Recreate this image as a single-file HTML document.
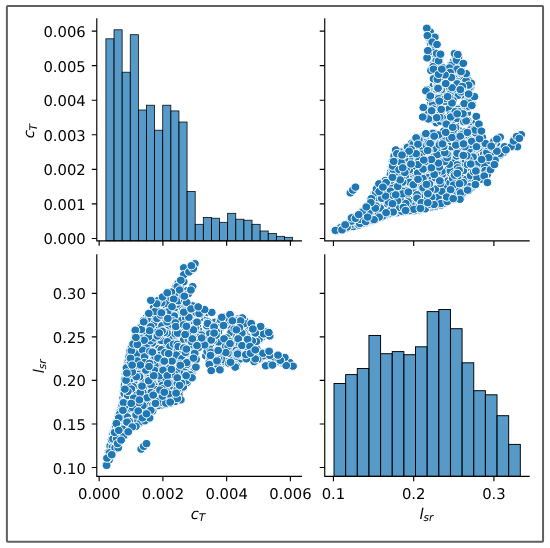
<!DOCTYPE html><html><head><meta charset="utf-8"><title>pairplot</title><style>html,body{margin:0;padding:0;background:#fff}svg{display:block}text{font-family:"DejaVu Sans","Liberation Sans",sans-serif;font-size:14.8px;text-rendering:geometricPrecision;fill:#000}.i{font-style:oblique}.s{font-size:10.6px;font-style:oblique}</style></head><body>
<svg width="550" height="548" viewBox="0 0 550 548">
<rect width="550" height="548" fill="#fff"/>
<rect x="6.9" y="6" width="536.15" height="535.7" rx="0.8" fill="none" stroke="#606060" stroke-width="2"/>
<defs><marker id="m" markerWidth="10" markerHeight="10" refX="5" refY="5" markerUnits="userSpaceOnUse" overflow="visible"><ellipse cx="5" cy="5" rx="4.4" ry="4.2" fill="#1f77b4" stroke="#fff" stroke-width="1.0"/></marker></defs>
<rect x="105.90" y="38.80" width="8.12" height="202.00" fill="#1f77b4" fill-opacity="0.75" stroke="#000" stroke-width="0.75"/>
<rect x="114.02" y="29.80" width="8.12" height="211.00" fill="#1f77b4" fill-opacity="0.75" stroke="#000" stroke-width="0.75"/>
<rect x="122.13" y="72.20" width="8.12" height="168.60" fill="#1f77b4" fill-opacity="0.75" stroke="#000" stroke-width="0.75"/>
<rect x="130.25" y="34.70" width="8.12" height="206.10" fill="#1f77b4" fill-opacity="0.75" stroke="#000" stroke-width="0.75"/>
<rect x="138.37" y="110.00" width="8.12" height="130.80" fill="#1f77b4" fill-opacity="0.75" stroke="#000" stroke-width="0.75"/>
<rect x="146.49" y="105.20" width="8.12" height="135.60" fill="#1f77b4" fill-opacity="0.75" stroke="#000" stroke-width="0.75"/>
<rect x="154.60" y="130.20" width="8.12" height="110.60" fill="#1f77b4" fill-opacity="0.75" stroke="#000" stroke-width="0.75"/>
<rect x="162.72" y="105.20" width="8.12" height="135.60" fill="#1f77b4" fill-opacity="0.75" stroke="#000" stroke-width="0.75"/>
<rect x="170.84" y="110.90" width="8.12" height="129.90" fill="#1f77b4" fill-opacity="0.75" stroke="#000" stroke-width="0.75"/>
<rect x="178.95" y="122.00" width="8.12" height="118.80" fill="#1f77b4" fill-opacity="0.75" stroke="#000" stroke-width="0.75"/>
<rect x="187.07" y="191.40" width="8.12" height="49.40" fill="#1f77b4" fill-opacity="0.75" stroke="#000" stroke-width="0.75"/>
<rect x="195.19" y="224.30" width="8.12" height="16.50" fill="#1f77b4" fill-opacity="0.75" stroke="#000" stroke-width="0.75"/>
<rect x="203.30" y="217.40" width="8.12" height="23.40" fill="#1f77b4" fill-opacity="0.75" stroke="#000" stroke-width="0.75"/>
<rect x="211.42" y="218.20" width="8.12" height="22.60" fill="#1f77b4" fill-opacity="0.75" stroke="#000" stroke-width="0.75"/>
<rect x="219.54" y="222.30" width="8.12" height="18.50" fill="#1f77b4" fill-opacity="0.75" stroke="#000" stroke-width="0.75"/>
<rect x="227.66" y="213.30" width="8.12" height="27.50" fill="#1f77b4" fill-opacity="0.75" stroke="#000" stroke-width="0.75"/>
<rect x="235.77" y="219.20" width="8.12" height="21.60" fill="#1f77b4" fill-opacity="0.75" stroke="#000" stroke-width="0.75"/>
<rect x="243.89" y="220.20" width="8.12" height="20.60" fill="#1f77b4" fill-opacity="0.75" stroke="#000" stroke-width="0.75"/>
<rect x="252.01" y="224.30" width="8.12" height="16.50" fill="#1f77b4" fill-opacity="0.75" stroke="#000" stroke-width="0.75"/>
<rect x="260.12" y="231.00" width="8.12" height="9.80" fill="#1f77b4" fill-opacity="0.75" stroke="#000" stroke-width="0.75"/>
<rect x="268.24" y="233.50" width="8.12" height="7.30" fill="#1f77b4" fill-opacity="0.75" stroke="#000" stroke-width="0.75"/>
<rect x="276.36" y="236.30" width="8.12" height="4.50" fill="#1f77b4" fill-opacity="0.75" stroke="#000" stroke-width="0.75"/>
<rect x="284.47" y="237.30" width="8.12" height="3.50" fill="#1f77b4" fill-opacity="0.75" stroke="#000" stroke-width="0.75"/>
<rect x="334.00" y="383.50" width="11.64" height="92.85" fill="#1f77b4" fill-opacity="0.75" stroke="#000" stroke-width="0.95"/>
<rect x="345.64" y="374.60" width="11.64" height="101.75" fill="#1f77b4" fill-opacity="0.75" stroke="#000" stroke-width="0.95"/>
<rect x="357.29" y="368.50" width="11.64" height="107.85" fill="#1f77b4" fill-opacity="0.75" stroke="#000" stroke-width="0.95"/>
<rect x="368.94" y="335.50" width="11.64" height="140.85" fill="#1f77b4" fill-opacity="0.75" stroke="#000" stroke-width="0.95"/>
<rect x="380.58" y="353.70" width="11.64" height="122.65" fill="#1f77b4" fill-opacity="0.75" stroke="#000" stroke-width="0.95"/>
<rect x="392.23" y="351.60" width="11.64" height="124.75" fill="#1f77b4" fill-opacity="0.75" stroke="#000" stroke-width="0.95"/>
<rect x="403.87" y="354.70" width="11.64" height="121.65" fill="#1f77b4" fill-opacity="0.75" stroke="#000" stroke-width="0.95"/>
<rect x="415.51" y="346.80" width="11.64" height="129.55" fill="#1f77b4" fill-opacity="0.75" stroke="#000" stroke-width="0.95"/>
<rect x="427.16" y="311.60" width="11.64" height="164.75" fill="#1f77b4" fill-opacity="0.75" stroke="#000" stroke-width="0.95"/>
<rect x="438.81" y="309.50" width="11.64" height="166.85" fill="#1f77b4" fill-opacity="0.75" stroke="#000" stroke-width="0.95"/>
<rect x="450.45" y="328.70" width="11.64" height="147.65" fill="#1f77b4" fill-opacity="0.75" stroke="#000" stroke-width="0.95"/>
<rect x="462.10" y="362.80" width="11.64" height="113.55" fill="#1f77b4" fill-opacity="0.75" stroke="#000" stroke-width="0.95"/>
<rect x="473.74" y="390.70" width="11.64" height="85.65" fill="#1f77b4" fill-opacity="0.75" stroke="#000" stroke-width="0.95"/>
<rect x="485.38" y="394.80" width="11.64" height="81.55" fill="#1f77b4" fill-opacity="0.75" stroke="#000" stroke-width="0.95"/>
<rect x="497.03" y="415.70" width="11.64" height="60.65" fill="#1f77b4" fill-opacity="0.75" stroke="#000" stroke-width="0.95"/>
<rect x="508.67" y="444.40" width="11.64" height="31.95" fill="#1f77b4" fill-opacity="0.75" stroke="#000" stroke-width="0.95"/>
<polyline points="450.8,186.9 426.3,143.7 456.8,197.1 388.4,188.9 431.0,138.6 396.0,153.7 436.5,157.4 440.2,102.0 398.9,153.8 466.2,134.7 448.0,197.4 463.5,150.7 432.3,156.3 408.5,204.0 409.8,188.5 458.2,132.7 438.7,143.2 454.5,143.3 409.4,173.9 392.1,197.2 395.4,183.5 456.4,171.6 402.5,200.8 408.2,169.2 400.5,203.0 421.5,192.9 397.6,187.5 375.8,206.7 396.0,190.6 472.7,178.1 472.5,178.1 434.2,137.8 412.2,194.0 387.1,205.9 426.9,137.9 395.8,200.1 477.6,149.9 396.4,211.7 428.8,152.5 420.0,210.0 429.4,156.5 489.3,162.3 411.9,185.7 406.7,200.9 422.3,187.6 335.7,231.0 460.6,144.0 452.0,134.6 424.1,140.6 478.4,155.4 402.8,209.8 348.5,226.3 449.1,193.3 390.1,194.8 441.6,183.0 437.2,143.5 467.9,177.5 425.0,201.4 434.0,155.8 429.2,205.0 463.1,170.8 417.8,162.1 396.4,152.2 443.2,137.2 369.2,218.1 411.3,203.9 457.8,150.1 473.2,134.9 396.9,160.5 419.7,161.6 461.6,72.1 440.4,199.5 453.5,177.7 407.6,151.3 414.2,210.7 445.2,162.0 400.8,172.1 446.9,179.1 405.9,196.7 367.5,219.7 393.1,174.2 470.3,143.2 450.5,168.0 464.7,133.4 367.5,213.5 445.7,197.1 464.4,136.9 478.0,149.4 414.9,181.4 395.1,207.4 432.6,192.5 423.7,167.6 385.6,193.7 406.1,186.5 457.6,147.9 442.5,171.8 404.2,166.6 371.4,213.5 441.1,203.7 450.0,184.0 467.3,172.5 418.4,169.2 456.7,156.4 442.8,166.3 459.1,172.3 485.8,167.9 396.7,181.4 381.4,213.3 476.0,184.0 466.7,180.1 407.3,147.3 422.3,169.5 345.0,224.5 435.2,116.4 445.1,154.1 363.2,215.8 424.8,139.6 440.5,197.6 389.6,182.0 421.1,180.8 453.1,165.9 454.8,170.7 411.9,149.4 439.8,119.2 443.1,192.2 451.2,183.0 456.9,180.8 394.2,180.1 441.3,157.9 473.4,181.7 441.6,201.4 421.3,169.1 405.4,200.1 439.5,173.9 421.7,206.3 467.7,84.0 401.6,153.2 410.7,197.4 446.6,166.6 386.6,207.7 395.8,171.9 439.3,141.6 429.6,200.1 476.5,151.7 397.0,167.8 343.8,227.6 422.6,136.4 427.7,169.0 401.0,177.6 417.4,140.4 479.9,134.5 429.7,157.1 475.7,167.7 453.2,172.3 453.8,86.5 439.5,142.5 410.9,196.0 438.1,143.2 355.0,225.8 437.5,89.0 431.2,163.8 460.0,176.9 406.8,185.7 380.6,217.5 405.0,199.5 420.1,173.0 427.4,141.0 415.7,207.5 402.4,193.7 450.9,76.1 445.1,149.3 415.2,197.3 384.5,183.7 459.1,119.3 347.8,223.9 405.2,207.6 464.0,163.8 461.5,180.0 428.7,176.6 456.1,190.5 383.0,186.6 415.1,145.2 471.0,157.0 438.1,188.1 443.5,169.5 476.7,159.0 424.4,195.0 428.3,197.3 464.1,186.5 396.9,158.3 406.8,179.3 427.4,202.9 465.8,184.6 454.9,164.1 436.6,174.7 400.6,158.3 440.8,143.6 437.6,191.9 430.2,43.2 364.2,210.6 369.7,212.9 438.0,179.4 389.8,186.1 409.8,148.2 465.9,136.1 429.7,188.4 375.0,197.2 473.5,181.0 391.9,206.5 405.0,207.0 363.5,217.5 494.4,160.6 415.0,145.1 374.3,194.3 480.9,160.4 445.1,163.5 405.0,194.1 447.1,169.5 480.4,163.7 433.5,64.5 457.8,134.7 448.7,166.9 471.8,142.6 368.3,209.9 393.7,184.1 498.5,150.5 470.8,131.4 369.7,215.8 412.7,207.4 476.2,171.7 463.2,176.4 415.7,197.8 371.7,206.4 433.4,153.2 403.5,210.0 463.6,175.1 474.5,142.9 480.7,179.3 473.8,169.8 410.4,187.6 454.1,151.6 385.0,206.8 364.7,222.9 380.9,205.1 475.8,136.5 388.7,213.6 431.6,201.4 473.4,173.1 368.5,217.0 428.1,181.7 394.2,165.2 402.6,212.1 416.6,204.7 423.4,171.7 424.4,137.0 465.4,184.1 416.9,158.1 392.8,181.2 492.6,159.7 453.5,178.7 453.4,162.5 401.3,184.4 405.9,177.1 438.7,165.2 469.8,184.6 481.3,160.7 452.2,140.8 423.5,177.1 362.0,223.8 428.1,156.8 488.6,158.0 426.8,150.9 389.8,202.3 403.8,180.1 433.8,155.8 432.0,190.1 450.9,144.5 421.6,173.8 489.1,156.0 379.0,205.5 456.4,126.1 393.4,202.9 456.2,163.6 465.2,185.0 412.8,193.6 403.8,163.6 425.7,137.0 375.4,219.5 446.5,186.2 448.1,126.4 457.8,158.1 457.1,168.9 455.2,123.6 378.3,191.5 442.8,165.6 389.5,182.1 461.2,133.6 463.8,180.5 423.0,174.4 375.5,210.2 440.3,163.9 428.4,156.3 381.6,203.6 400.5,186.8 421.8,139.4 391.7,199.9 462.7,174.2 399.7,205.9 350.4,226.1 450.5,142.9 398.5,157.2 446.1,94.1 400.9,152.3 403.2,202.4 430.9,136.9 438.9,59.7 471.0,164.8 429.1,145.7 408.9,180.3 461.5,168.2 491.6,162.0 414.6,185.6 461.2,142.5 461.5,165.3 477.5,166.8 495.0,160.3 377.4,211.6 440.0,166.9 434.5,166.8 366.8,221.8 458.0,189.2 418.0,139.6 430.5,207.5 431.3,147.3 389.0,189.1 433.8,47.5 459.0,134.8 469.3,165.7 414.6,146.8 425.7,199.1 432.3,152.4 411.3,209.5 443.1,144.1 443.9,170.3 437.3,184.3 433.4,94.7 460.5,146.7 416.8,155.5 454.6,161.5 415.5,150.4 460.4,137.1 449.7,159.9 435.0,172.3 408.4,211.4 452.4,157.9 399.6,202.1 415.9,189.5 361.2,224.1 484.5,170.7 468.5,174.2 433.4,85.8 453.1,179.2 426.1,199.3 396.1,162.8 411.4,196.6 457.1,177.8 378.9,196.6 392.7,182.6 462.4,111.0 455.0,188.3 470.9,137.6 439.9,191.7 402.2,161.1 420.7,160.5 489.0,157.6 414.3,143.6 391.9,187.2 400.4,167.9 458.1,170.0 369.8,204.4 406.0,179.8 441.7,136.0 405.5,160.4 424.8,180.9 440.4,100.4 435.6,72.3 434.7,163.2 470.4,141.2 463.8,157.3 406.7,184.1 411.6,199.9 460.0,174.8 420.3,203.7 461.5,90.6 446.2,175.4 409.9,210.6 408.5,191.1 412.0,185.6 403.3,205.6 453.3,167.3 457.5,150.9 369.1,218.9 439.5,134.1 430.9,43.8 361.2,211.8 389.9,194.2 403.2,207.6 452.1,148.8 399.6,177.4 356.7,223.9 421.1,195.1 473.3,166.4 409.1,178.1 415.2,172.6 401.1,157.6 448.7,131.3 366.7,214.3 413.0,186.9 431.5,165.1 414.2,206.3 411.4,179.2 434.8,191.0 412.9,167.2 434.8,152.2 440.8,161.7 387.4,214.6 457.1,183.3 391.6,194.9 420.8,169.6 473.3,138.8 445.6,133.8 448.2,151.0 390.2,195.6 483.6,169.5 411.7,195.6 409.8,156.7 478.0,152.4 404.9,174.3 377.1,199.2 419.5,167.8 427.2,155.7 474.8,146.1 427.9,110.6 410.8,158.2 416.3,189.5 455.9,137.0 421.6,181.5 421.5,154.2 436.8,164.7 466.3,154.4 417.3,185.7 436.9,84.1 427.9,192.6 459.7,89.9 403.8,157.5 482.9,159.1 404.8,166.4 419.6,162.5 477.2,155.6 380.2,191.0 408.3,194.5 390.0,177.0 474.6,178.7 442.5,161.8 435.8,169.0 426.2,175.5 408.5,188.7 413.3,197.8 413.1,196.2 435.8,206.2 421.6,154.3 422.6,170.3 483.8,142.4 400.6,175.6 425.0,176.1 391.3,191.8 461.6,107.3 392.7,171.3 437.6,98.0 427.8,107.2 443.6,193.2 393.5,207.9 373.2,207.4 439.1,154.4 448.4,197.0 420.2,151.7 450.7,122.4 405.1,202.5 429.4,158.4 383.1,186.6 403.1,189.7 435.9,157.1 398.6,184.0 441.1,177.8 477.7,164.3 447.6,138.6 400.5,210.9 398.4,198.9 466.5,179.2 349.9,225.0 453.7,187.4 440.7,176.4 439.5,108.6 473.6,184.2 395.1,169.8 408.2,171.1 412.1,168.7 473.4,145.8 417.3,141.1 436.3,122.7 488.0,166.3 355.4,220.1 428.5,177.6 406.5,160.8 390.0,194.8 480.8,135.2 375.7,197.1 466.1,158.8 461.2,91.5 461.5,153.4 472.6,149.4 389.3,212.5 405.9,203.3 412.5,187.8 441.0,202.3 402.0,168.9 413.8,164.6 419.4,199.9 417.3,163.5 460.3,131.1 416.1,173.1 452.1,175.1 473.0,168.6 448.3,193.9 421.4,181.8 424.0,152.8 425.3,139.9 405.5,188.2 374.4,209.1 444.8,141.0 403.2,155.7 426.2,147.4 417.9,192.4 437.1,204.8 479.1,144.5 433.8,167.4 400.9,187.8 414.4,179.6 402.9,184.0 438.2,148.5 462.4,169.6 380.3,190.0 399.3,183.6 484.0,175.4 386.5,188.7 403.2,170.2 368.2,209.2 444.5,156.2 450.1,66.6 375.2,213.8 466.5,149.8 452.0,83.5 470.0,133.3 481.9,160.2 442.8,187.5 427.9,170.2 467.7,85.0 407.1,153.2 451.5,160.6 434.4,182.1 442.8,178.4 472.7,168.4 459.4,177.0 451.9,143.7 437.8,161.0 433.4,169.2 396.8,166.3 448.8,163.0 393.2,195.4 398.2,208.3 442.5,196.0 445.9,75.7 435.0,171.7 399.1,152.4 416.5,174.3 447.2,186.7 395.5,185.3 479.0,138.5 472.3,124.6 475.8,143.3 411.7,143.2 429.4,190.0 432.8,179.0 399.9,152.3 466.0,188.1 442.2,187.9 480.2,157.3 397.4,173.1 403.3,203.7 458.8,169.2 408.7,186.8 449.1,182.1 443.5,150.0 453.9,148.0 449.8,166.8 451.2,184.0 446.6,125.8 375.6,214.0 381.9,191.7 362.4,220.2 392.8,204.8 433.5,167.5 430.1,147.7 427.0,149.5 377.7,211.1 421.6,201.8 411.3,165.4 433.6,151.3 444.3,108.2 439.8,185.1 406.5,180.4 453.0,125.3 381.0,184.0 397.7,201.9 465.9,163.8 403.4,204.0 403.0,151.5 405.9,197.3 403.7,211.5 456.5,164.8 389.0,209.7 476.7,144.6 405.3,175.3 461.2,175.8 409.5,168.1 467.2,113.1 389.1,191.1 399.0,157.9 410.4,149.4 448.8,174.0 421.8,170.7 443.4,156.1 364.4,211.3 470.7,187.2 470.1,167.4 413.2,151.5 450.4,79.4 378.1,201.6 451.4,146.6 456.0,193.1 450.9,155.1 416.6,178.2 428.3,155.7 444.4,167.0 473.1,185.3 347.4,228.0 402.5,188.6 390.8,171.8 479.4,141.9 425.8,166.4 459.7,139.5 464.0,164.0 434.0,111.6 441.8,85.0 409.0,206.0 457.4,189.5 378.6,202.8 460.1,143.8 423.9,185.9 451.7,64.0 472.4,184.5 362.3,223.9 452.2,167.3 451.0,171.3 395.2,159.8 376.2,201.1 401.1,205.0 412.1,194.0 374.0,216.8 414.8,164.6 455.0,173.7 462.9,148.0 426.1,201.5 458.4,159.1 385.8,215.5 428.8,187.4 417.4,200.5 487.6,153.0 440.9,140.9 497.1,150.1 429.3,188.6 388.8,214.2 437.4,56.5 446.2,202.4 436.0,177.1 455.5,187.7 428.3,177.9 370.2,218.4 433.8,165.7 403.1,195.1 455.8,178.8 477.8,141.4 352.6,225.4 461.0,180.4 466.5,184.7 456.2,156.0 435.1,174.8 413.6,164.3 420.3,142.7 348.5,224.1 429.0,142.0 427.1,179.1 399.1,165.8 436.6,54.3 385.5,195.6 385.1,207.2 461.1,140.4 473.6,176.0 468.5,179.2 391.7,166.7 463.1,176.8 389.8,212.1 366.5,206.5 380.9,213.1 402.0,181.7 462.6,142.7 410.5,169.4 460.0,185.2 438.1,142.1 483.4,141.9 427.9,201.2 399.6,153.2 450.4,133.8 466.5,174.4 452.9,198.7 477.7,142.0 446.9,186.9 404.7,159.5 373.1,202.9 478.0,146.1 402.2,192.0 476.5,177.3 395.5,197.3 460.7,164.4 441.2,172.8 403.4,187.2 472.4,146.1 419.8,158.9 412.1,187.9 442.6,181.4 478.6,135.6 471.1,163.8 473.4,134.4 432.8,44.3 483.2,142.2 466.1,86.7 407.1,176.6 377.7,189.2 461.7,155.6 411.0,170.1 416.7,204.5 418.0,172.9 390.5,196.7 403.8,172.7 410.9,170.9 441.8,200.1 381.6,185.8 470.1,143.8 454.3,150.8 484.2,163.5 452.4,191.8 385.8,213.1 462.2,177.9 389.4,202.6 425.2,157.3 415.4,195.5 428.6,169.6 437.3,159.4 451.4,187.6 406.3,177.5 462.2,171.0 368.8,216.6 416.6,180.7 440.2,112.4 408.4,179.9 423.5,192.1 442.8,198.5 441.6,157.0 441.1,166.7 490.0,170.0 453.1,175.3 444.6,155.7 437.0,172.3 432.3,177.3 402.5,205.4 439.2,154.6 393.5,168.7 450.6,173.9 395.2,157.4 399.0,153.9 417.9,205.6 397.1,180.3 394.9,163.2 392.5,180.1 434.1,204.0 455.5,171.2 393.2,211.2 453.3,157.5 428.3,187.9 476.5,172.7 487.3,152.1 430.0,182.5 451.1,192.7 479.0,150.9 431.8,155.3 439.6,152.3 485.1,164.0 400.8,205.1 463.8,134.1 422.8,159.5 440.8,144.3 431.2,141.0 440.9,154.8 375.0,199.6 416.8,160.7 450.8,108.6 460.2,169.3 408.7,199.3 395.0,180.7 465.3,169.2 455.3,186.9 435.4,173.2 448.5,181.7 485.5,170.7 435.1,147.1 455.8,72.1 441.4,170.9 442.2,195.6 456.0,165.2 423.6,208.4 425.2,135.5 497.6,153.8 434.1,187.8 413.7,200.3 430.8,205.3 494.0,151.6 423.9,137.4 377.6,205.2 483.9,161.6 470.6,129.8 385.8,188.7 471.7,136.5 358.0,218.6 421.5,165.8 442.4,181.2 441.3,194.4 432.3,197.1 500.0,152.7 408.5,180.6 425.1,156.2 462.3,149.6 449.3,178.1 428.2,176.6 463.0,142.1 440.2,121.3 453.5,174.1 451.1,169.2 475.2,153.2 452.7,173.6 436.1,166.5 437.8,142.3 396.0,151.0 412.7,175.0 455.6,186.5 428.5,180.0 428.8,176.2 450.2,134.1 464.2,174.3 380.8,205.7 393.9,169.3 379.3,187.3 408.8,163.9 443.7,164.9 407.6,147.3 436.2,199.9 482.9,167.5 493.8,159.2 408.8,186.6 473.5,159.3 473.3,156.7 484.3,174.9 396.8,212.8 384.9,181.4 396.3,189.9 403.5,167.2 440.0,181.1 441.5,85.6 476.8,165.2 497.9,151.3 428.6,162.4 426.6,149.7 415.7,185.4 414.6,162.2 441.8,138.5 446.0,162.1 382.4,198.3 471.5,166.5 487.1,169.1 426.6,172.4 481.7,152.6 341.5,227.7 446.6,141.0 429.3,166.2 402.5,198.8 409.8,183.1 427.8,168.6 442.9,172.6 372.1,217.6 475.0,182.9 373.5,213.6 361.2,224.0 457.4,156.5 430.1,142.7 452.5,189.9 450.5,173.4 411.3,164.9 400.8,164.3 453.7,116.3 413.7,157.4 454.5,137.1 428.6,156.3 423.0,191.5 460.2,139.3 431.6,150.3 397.6,183.1 389.4,192.3 392.0,187.2 424.0,141.6 406.4,165.7 471.0,158.5 388.5,198.1 485.2,157.7 470.0,140.2 456.4,142.0 457.0,118.5 399.8,203.0 389.6,188.2 384.6,186.0 444.6,152.7 443.6,136.6 438.0,157.3 457.5,150.6 448.9,149.8 459.4,135.3 361.9,214.0 414.6,193.3 426.4,159.7 452.1,140.9 453.5,198.3 422.6,136.6 377.2,191.1 430.9,105.2 434.9,192.2 382.9,186.4 448.0,193.6 403.6,182.4 457.7,140.4 475.7,176.6 461.2,162.5 464.3,167.9 458.6,169.1 477.4,148.8 453.0,135.6 342.8,227.0 485.3,174.7 453.5,145.4 441.4,168.1 421.1,173.8 406.6,183.7 401.8,194.7 435.1,145.9 444.9,199.3 467.5,141.1 475.8,164.3 394.9,161.8 437.0,200.0 363.3,222.0 393.9,186.7 428.6,140.6 447.2,186.9 455.7,179.7 451.5,199.8 445.5,93.4 474.1,153.3 431.0,177.4 436.4,62.3 385.8,200.0 396.6,160.1 479.6,165.4 434.7,155.0 459.6,161.6 458.1,179.4 444.2,191.1 466.8,151.5 450.9,193.9 373.2,218.9 492.4,155.0 425.2,166.8 390.5,181.3 438.6,156.9 445.5,199.6 441.6,192.6 462.2,142.7 434.3,195.2 418.0,202.8 356.0,217.0 410.4,208.3 458.4,162.4 407.9,160.1 467.7,180.4 369.8,217.4 428.9,190.9 419.5,158.3 454.6,182.7 482.0,159.8 406.0,181.2 389.1,186.7 409.1,205.4 353.3,226.5 412.4,160.1 454.7,197.7 462.2,163.3 484.0,165.5 415.9,186.6 472.2,132.7 389.4,185.6 448.4,163.4 397.6,155.3 390.5,174.5 398.4,180.7 440.5,114.9 451.2,116.7 409.9,179.4 433.6,172.2 461.8,159.3 389.7,210.8 462.0,194.5 413.8,200.2 438.9,180.0 392.5,161.5 455.6,165.2 418.8,151.1 416.0,201.8 481.2,157.1 445.1,181.3 466.7,191.0 434.0,99.4 465.1,158.9 444.5,92.9 409.3,168.4 472.2,167.7 403.9,154.8 395.5,161.7 470.2,176.4 400.4,189.4 431.4,141.6 400.6,196.9 479.8,166.5 401.8,195.5 414.1,181.3 468.8,161.6 492.8,159.6 432.6,164.8 431.8,206.0 440.7,175.2 464.0,181.7 391.0,213.5 492.8,159.5 389.6,187.3 443.2,185.8 457.4,170.6 461.7,188.9 468.1,173.7 369.4,219.8 418.4,198.8 412.1,181.3 432.3,157.6 394.4,189.8 415.1,170.1 369.2,216.6 468.1,164.0 378.1,203.0 454.1,137.0 416.5,169.9 451.4,142.1 417.5,164.3 446.9,166.0 398.2,198.7 422.5,202.5 403.9,185.7 377.0,213.8 420.1,209.1 466.1,158.0 353.2,221.6 483.6,159.6 453.0,93.0 370.2,221.5 481.2,165.1 460.5,145.7 485.4,172.3 393.3,179.9 435.7,104.0 423.9,156.1 470.3,170.7 427.4,163.6 458.2,109.3 340.4,227.8 391.0,205.4 471.8,186.6 468.3,134.5 399.5,179.5 461.2,164.3 433.5,187.0 432.3,163.5 485.8,156.2 485.1,161.8 452.2,163.0 438.8,134.2 453.0,77.5 435.5,151.0 399.3,151.6 459.6,87.5 388.4,205.8 367.8,221.5 438.5,175.0 467.4,154.3 442.4,81.8 463.1,174.6 421.2,188.0 430.8,156.0 435.2,191.3 394.9,161.0 432.3,189.3 395.9,174.7 445.3,146.6 457.9,185.8 361.8,213.9 416.3,150.5 464.0,149.1 412.2,187.6 447.8,151.9 439.9,151.0 455.0,175.6 399.0,176.2 404.5,159.7 403.7,198.2 364.3,212.6 489.7,166.7 422.9,204.1 492.5,161.3 430.0,144.2 431.7,157.5 431.0,102.6 458.7,171.9 405.5,191.2 397.5,200.8 412.2,166.3 395.7,200.6 407.2,188.6 394.9,183.8 455.0,176.1 440.6,152.7 447.6,163.2 392.9,177.6 435.2,137.4 460.0,177.1 352.6,224.0 418.8,143.6 447.7,163.6 396.3,168.5 473.2,169.8 492.5,165.2 433.6,50.1 360.9,212.9 409.3,183.5 431.0,147.9 465.6,161.2 377.6,198.4 419.1,200.8 415.6,161.1 404.7,181.7 436.2,178.9 380.6,203.9 386.3,202.4 471.4,166.0 430.8,139.7 382.4,206.9 434.9,138.0 456.3,151.4 363.1,223.0 458.9,155.5 429.6,160.0 386.7,202.9 405.2,177.0 423.0,151.2 445.7,194.4 454.5,86.8 438.1,178.5 454.9,128.2 433.5,171.9 426.8,147.3 452.1,142.6 430.3,170.9 420.0,183.4 374.9,213.9 406.2,200.4 428.3,184.0 381.2,208.2 478.6,141.6 465.1,81.6 440.7,134.6 448.9,147.6 445.5,190.5 384.3,214.6 399.9,198.9 406.5,162.3 423.9,165.5 461.2,177.5 389.2,203.3 403.4,162.1 371.1,200.9 482.6,155.6 472.2,146.4 359.0,222.2 448.0,109.0 457.9,79.4 450.9,174.5 456.6,180.0 374.4,212.4 458.8,84.3 476.9,176.4 413.3,149.3 423.8,158.9 427.5,113.0 375.8,194.6 441.0,205.0 398.0,197.9 463.0,95.1 466.5,177.7 370.4,206.8 457.8,95.4 390.0,182.9 398.8,187.2 481.7,174.2 434.2,164.0 420.9,199.2 487.5,150.8 468.0,177.6 470.8,177.9 435.3,161.5 436.5,202.2 396.1,185.4 407.1,190.8 456.7,153.4 459.3,168.7 455.1,195.9 393.8,172.0 438.7,95.3 388.2,205.4 398.1,183.3 432.7,159.7 445.8,167.1 422.1,202.6 447.4,117.6 453.4,146.5 403.2,167.5 405.0,157.6 442.9,175.9 432.2,118.6 389.5,197.1 493.1,162.3 452.5,169.0 480.0,157.0 421.5,155.7 413.8,170.6 417.4,180.5 475.3,177.6 371.6,216.1 454.7,176.8 360.3,213.4 440.8,187.0 370.9,220.4 419.1,181.2 412.6,186.1 423.4,176.9 456.5,156.0 417.8,156.4 449.7,183.7 387.2,205.3 371.0,199.5 472.1,103.9 447.5,180.9 368.2,213.2 371.1,216.4 454.7,195.0 439.9,162.0 359.7,224.1 414.6,191.0 396.8,178.6 455.4,146.1 460.2,173.7 450.5,176.3 464.0,170.3 388.4,185.1 445.3,183.7 457.3,150.8 474.5,145.9 395.6,166.7 440.8,180.9 409.3,169.8 418.3,171.7 431.6,153.0 409.6,157.7 445.1,151.2 387.6,190.9 421.9,159.6 419.9,165.4 413.1,206.1 388.1,201.5 437.9,108.0 483.8,161.0 399.8,186.5 429.6,147.4 485.4,159.0 371.9,201.1 432.5,177.7 369.9,218.1 375.6,212.1 500.9,154.3 382.6,209.3 449.8,131.8 367.6,212.1 417.1,188.9 471.3,187.5 428.9,171.0 443.4,203.4 468.1,107.5 390.2,180.8 486.1,172.3 494.1,154.0 378.8,204.5 447.1,137.3 443.1,187.6 421.8,137.7 457.2,153.3 432.4,115.5 394.3,189.5 455.1,177.3 477.9,143.4 463.3,193.0 471.7,152.4 381.4,199.5 486.7,165.5 393.6,167.0 433.2,51.1 385.2,189.1 473.2,141.7 461.3,191.2 499.8,153.0 489.5,153.2 468.1,105.2 404.6,158.4 447.9,154.3 392.9,173.2 438.2,152.1 471.8,170.4 434.7,145.0 471.9,155.7 499.1,150.5 481.3,134.2 395.1,211.1 458.4,66.6 430.0,199.7 417.9,194.5 437.2,145.0 466.2,152.9 479.7,144.3 398.2,207.2 485.2,162.1 484.6,163.3 447.8,182.8 409.7,182.3 385.5,180.5 462.7,188.3 466.5,184.7 371.6,210.2 449.9,94.1 467.2,135.1 444.5,195.3 456.1,179.9 439.2,136.3 459.9,166.2 448.1,180.9 454.7,194.2 477.2,172.2 431.1,160.0 450.8,146.8 392.8,179.6 365.0,223.5 378.7,213.2 474.7,183.2 466.1,179.5 413.3,144.0 428.4,177.6 399.8,152.0 471.3,161.9 387.6,203.9 477.0,142.5 449.1,108.9 401.9,183.6 422.9,178.5 428.9,169.0 450.3,172.6 486.5,165.8 368.3,205.4 396.6,153.1 423.0,195.3 357.7,224.3 399.0,161.2 423.2,152.0 442.1,171.1 370.2,210.2 447.0,83.6 431.0,169.2 395.2,175.1 478.7,176.7 491.6,166.2 394.7,212.1 416.8,164.1 445.1,101.3 470.9,174.7 385.3,189.0 484.4,151.6 438.9,195.3 459.2,169.5 390.4,200.1 503.0,151.7 468.9,150.1 402.6,182.1 457.8,169.4 471.7,178.2 350.5,220.8 428.5,192.9 419.4,203.1 448.9,166.8 483.4,166.7 366.1,222.2 467.1,135.3 426.6,199.6 360.8,214.0 473.8,166.0 398.2,196.5 439.4,183.7 445.6,187.3 470.1,141.3 419.9,193.0 407.2,202.1 411.1,149.3 440.2,153.4 407.5,194.5 484.6,165.3 432.2,179.5 470.6,175.7 445.2,139.4 458.4,168.9 475.5,182.0 437.0,116.8 410.8,153.6 428.8,113.7 396.0,174.6 473.8,171.8 392.3,206.5 473.5,156.2 420.2,142.8 428.7,206.1 442.4,118.0 403.6,165.5 436.8,172.1 457.1,164.8 416.3,166.5 395.4,173.8 451.4,137.1 457.7,167.8 475.1,163.4 470.9,98.9 483.8,143.0 421.4,186.3 433.8,160.7 468.0,136.2 435.7,177.9 459.0,170.3 457.5,177.2 392.3,185.0 394.2,156.2 422.5,141.6 477.1,134.6 434.8,198.6 437.4,163.6 463.0,136.5 359.1,225.0 420.7,145.9 393.9,191.7 473.0,131.3 372.0,204.0 453.4,71.0 439.8,143.2 436.2,188.4 379.4,206.5 417.8,172.9 403.0,155.5 473.0,157.1 378.5,189.0 445.9,134.0 393.3,169.5 476.8,164.2 466.9,92.1 484.9,174.1 381.2,184.5 407.9,201.8 450.1,182.8 441.8,153.5 416.6,180.7 395.6,189.9 453.7,142.4 419.4,165.2 458.3,189.7 433.6,134.6 450.4,170.8 420.3,142.5 421.4,203.3 388.5,202.2 453.7,198.3 390.5,191.1 419.1,156.3 431.4,166.9 455.1,174.4 452.7,178.5 454.8,186.1 381.5,196.9 408.6,207.4 490.6,152.7 401.2,211.0 418.8,207.3 425.2,208.8 462.3,193.2 359.8,223.5 402.5,191.1 480.7,146.3 460.3,134.0 385.5,214.6 452.4,192.9 454.4,88.8 453.6,185.0 417.5,195.5 449.3,164.3 401.6,211.2 427.7,185.5 439.6,200.2 405.1,153.9 412.1,191.1 376.7,207.2 416.5,195.6 429.2,144.6 341.6,229.5 444.8,161.5 443.1,144.0 406.3,168.6 424.9,161.8 419.3,196.4 454.1,173.8 469.9,186.6 405.7,203.5 463.4,154.8 415.6,184.1 429.9,204.3 440.6,148.8 397.7,186.5 434.5,155.0 471.8,134.5 432.4,168.6 400.3,197.5 483.8,154.2 401.0,162.4 454.6,175.3 434.0,191.0 460.6,85.8 399.9,207.5 451.5,141.7 403.5,207.4 468.7,159.2 413.6,184.8 459.4,191.0 393.2,195.4 438.0,197.5 428.7,110.9 437.3,151.2 467.6,164.6 466.7,155.8 441.6,191.3 443.7,140.6 423.1,187.8 417.0,194.7 419.1,160.3 463.1,182.5 459.5,183.7 435.4,189.2 347.0,227.1 437.1,154.8 428.0,198.2 430.2,189.3 476.3,169.9 447.1,157.7 402.4,193.9 492.0,152.1 437.3,83.7 463.8,138.3 360.1,219.4 465.0,106.0 433.8,148.6 439.3,167.1 379.7,195.4 401.6,177.4 392.7,166.1 455.7,141.2 459.9,65.1 413.3,184.7 429.3,183.8 477.5,144.1 485.2,170.6 446.9,153.7 452.5,133.8 375.4,200.3 399.1,169.7 375.7,192.9 477.4,140.5 417.1,198.2 489.8,160.6 426.5,184.4 397.2,155.0 432.7,103.3 433.6,44.1 500.3,155.0 440.5,183.5 471.6,143.1 376.7,205.7 381.8,198.4 463.4,155.4 444.8,152.7 391.0,180.2 450.6,189.7 428.8,150.5 397.4,200.8 351.6,221.1 418.8,165.0 451.6,197.9 368.8,212.8 431.6,197.3 444.1,146.4 453.4,133.7 421.4,202.6 439.8,180.8 462.1,141.8 434.2,174.5 457.3,173.4 380.1,208.1 404.8,172.5 427.9,193.8 486.3,155.2 467.6,143.6 486.9,152.4 438.4,163.1 389.9,210.9 375.9,206.0 429.1,38.4 431.2,39.8 432.7,39.1 428.0,52.9 428.3,52.8 439.2,56.5 438.1,54.7 436.4,56.5 439.4,62.8 436.3,60.7 458.5,57.0 453.6,61.4 455.7,57.6 440.2,66.9 443.0,67.8 458.9,70.5 456.5,67.2 433.1,66.6 432.9,71.7 450.2,71.0 451.4,65.3 448.9,73.7 446.8,71.4 458.5,70.2 463.3,72.1 466.8,75.1 466.5,75.6 435.9,74.3 436.5,73.7 446.4,76.9 447.7,72.9 436.3,77.1 437.9,82.3 435.4,78.3 447.4,83.9 444.7,80.9 457.5,81.5 455.8,80.3 454.8,78.2 454.1,78.6 464.0,80.3 465.2,82.0 468.7,83.6 468.9,81.0 436.1,89.6 438.4,86.8 453.3,86.3 453.8,86.8 459.8,85.6 461.0,84.0 446.1,86.8 447.5,86.0 441.3,89.7 439.5,88.2 427.8,90.0 432.3,97.1 429.6,97.9 457.6,81.6 458.4,85.2 462.0,87.8 461.0,91.9 470.5,87.3 468.8,88.0 469.4,96.1 469.2,96.4 438.4,99.3 438.6,98.7 452.8,100.1 449.6,97.5 445.0,98.6 465.5,102.2 466.1,102.2 470.5,103.0 469.4,106.6 433.4,109.0 434.1,111.6 439.9,112.1 440.6,112.1 463.9,116.4 460.6,112.1 430.0,116.6 431.2,118.9 439.6,117.1 435.3,118.2 450.6,114.7 452.9,114.5 458.5,111.6 455.3,111.7 463.9,121.7 467.6,120.7 447.5,122.8 448.6,126.1 455.5,127.6 452.9,130.5 477.1,123.3 476.3,122.6 475.3,127.9 477.2,127.8 467.7,135.1 464.7,132.0 426.0,136.9 440.7,134.2 435.9,134.3 444.1,130.9 443.8,131.1 451.7,135.3 449.5,138.3 461.3,138.6 462.4,134.2 417.0,140.0 416.7,138.9 426.3,145.3 430.9,142.8 443.6,146.5 439.4,144.9 456.0,142.9 457.0,142.8 471.4,139.7 471.2,144.5 482.3,139.2 482.3,137.4 480.2,132.2 432.1,134.3 432.9,133.3 462.8,145.3 464.9,146.7 478.6,147.8 476.6,143.9 516.6,138.2 514.5,139.1 515.6,138.3 504.5,146.7 499.2,138.4 496.3,143.2 492.8,143.0 491.7,147.6 492.5,144.8 487.6,145.6 475.8,133.0 477.6,129.6 430.1,31.8 434.8,37.2 436.7,53.5 454.6,53.5 431.0,70.5 449.5,67.9 521.2,134.6 517.4,146.7 503.3,152.5 350.4,192.9 352.9,190.1 335.4,230.4 416.1,153.7 433.5,78.8 474.4,129.2 457.2,83.2 464.2,103.6 450.8,117.0 456.5,60.2 440.9,203.5 426.8,28.3 402.7,167.8 385.5,196.1 423.1,169.1 431.4,159.5 453.5,199.3 500.1,153.7 477.6,146.4 466.1,120.9 472.0,141.0 447.2,201.6 425.0,134.6 457.2,83.8 471.2,83.2 452.0,137.5 427.1,57.9 436.7,117.7 475.2,130.1 418.0,164.6 428.4,143.2 457.2,69.2 342.0,229.9 383.0,215.9 423.3,107.5 367.6,205.7 446.3,124.1 471.8,105.5 511.0,146.7 395.7,149.9 477.1,178.0 376.5,188.9 466.1,80.7 496.9,151.2 493.7,141.6 351.6,217.8 505.9,149.9 428.4,119.0 371.4,198.6 463.3,63.4 375.3,208.2 362.5,212.0 452.0,87.7 396.9,153.7 452.7,127.3 413.8,209.3 427.4,35.6 471.8,141.3 485.4,143.5 379.1,217.1 386.1,182.7 365.7,221.6 468.6,85.7 450.1,72.4 393.3,212.6 460.6,192.8 487.4,174.2 423.8,160.1 418.8,140.0 416.1,137.8 393.1,212.0 355.5,187.1 500.1,137.1 445.7,83.2 468.8,190.4 418.0,144.2 430.1,143.5 466.1,73.6 476.5,146.7 409.1,151.2 479.5,138.8 496.9,139.0 374.0,219.7 438.6,134.9 476.3,116.4 379.0,183.8 468.6,85.1 455.9,145.1 438.6,60.9 446.7,197.0 462.3,86.4 391.9,177.6 422.7,117.0 484.2,176.0 432.2,42.0 438.0,89.6 433.5,69.2 439.3,101.1 452.0,103.0 367.6,217.1 431.4,167.8 460.3,136.2 395.7,194.8 408.4,192.0 459.9,199.3 467.6,190.1 491.2,146.1 386.1,182.5 393.7,161.4 405.6,210.5 478.9,124.1 462.9,113.8 425.9,133.6 463.5,143.9 426.5,89.6 451.4,77.5 470.7,164.0 457.8,54.5 355.5,218.4 495.0,160.1 402.0,155.0 445.7,83.6 474.4,96.6 379.1,191.6 461.0,71.7 442.5,143.9 468.6,94.0 475.9,171.0 345.2,224.8 475.4,184.6 400.1,179.9 445.7,132.4 438.0,88.3 427.8,50.6 392.5,203.7 488.6,157.6 457.2,113.8 427.6,150.5 411.0,164.0 434.0,204.5 437.0,44.5 392.5,177.4 437.4,79.4 382.9,187.1 445.0,74.9 438.6,74.3 467.4,132.4 513.5,141.0 425.9,90.9 481.6,159.5 490.5,169.7 441.2,109.4 386.1,212.7 460.3,89.6 431.6,110.7 453.2,198.6 494.4,164.6 358.7,214.6 427.8,202.7 441.8,69.2 481.4,131.1 516.7,136.5 370.8,202.5 418.0,179.3 366.3,207.0 519.3,138.4 440.5,54.2 430.3,96.0 487.4,182.5 420.4,208.4 447.6,96.6 434.2,136.2" fill="none" stroke="none" marker-start="url(#m)" marker-mid="url(#m)" marker-end="url(#m)"/>
<polyline points="146.7,340.1 186.5,366.6 137.3,333.6 144.9,407.9 191.2,361.5 177.3,399.6 173.9,355.6 225.0,351.6 177.2,396.4 194.9,323.3 137.1,343.1 180.0,326.4 174.9,360.2 130.9,386.1 145.3,384.6 196.7,332.1 187.0,353.2 186.9,336.0 158.7,385.0 137.2,403.8 149.8,400.2 160.8,334.0 133.9,392.5 163.1,386.4 131.8,394.7 141.1,371.9 146.1,397.9 128.5,421.5 143.3,399.6 154.8,316.3 154.8,316.5 191.9,358.1 140.1,382.0 129.2,409.3 191.9,366.1 134.5,399.8 180.8,311.0 123.8,399.2 178.4,364.0 125.4,373.5 174.7,363.3 169.4,298.3 147.8,382.3 133.8,388.0 146.1,371.0 106.0,465.1 186.3,329.5 194.9,338.8 189.4,369.1 175.7,310.1 125.6,392.2 110.3,451.1 140.8,342.0 139.4,406.0 150.3,350.1 186.8,354.8 155.4,321.5 133.3,368.1 175.3,358.3 130.0,363.6 161.6,326.8 169.6,375.9 178.7,399.2 192.6,348.4 117.9,428.7 131.0,383.0 180.6,332.5 194.7,315.8 171.1,398.6 170.0,373.8 252.6,328.4 135.0,351.4 155.1,337.2 179.6,387.0 124.7,379.8 169.6,346.2 160.4,394.4 153.9,344.3 137.6,388.8 116.4,430.5 158.4,402.7 187.0,319.0 164.2,340.4 196.0,325.0 122.1,430.5 137.3,345.7 192.8,325.3 181.3,310.6 151.8,379.1 127.7,400.6 141.5,359.8 164.5,369.6 140.4,410.9 147.1,388.6 182.6,332.7 160.6,349.1 165.4,390.7 122.2,426.3 131.2,350.6 149.4,341.0 159.9,322.2 163.0,375.2 174.8,333.7 165.7,348.8 160.2,331.1 164.2,302.1 151.7,398.9 122.4,415.5 149.4,312.7 153.0,322.8 183.2,387.3 162.7,371.0 112.0,455.0 211.7,357.0 177.0,346.3 120.0,435.2 190.3,368.4 136.8,351.3 151.2,406.5 152.4,372.4 166.1,337.6 161.7,335.8 181.3,382.4 209.1,352.1 141.8,348.5 150.3,339.6 152.4,333.4 153.0,401.5 173.5,350.4 151.5,315.5 133.3,350.0 163.1,372.1 134.5,389.4 158.7,352.4 128.8,371.7 241.6,321.8 177.8,393.5 137.0,383.6 165.4,344.7 127.5,409.8 160.5,399.8 188.5,352.6 134.6,363.2 179.2,312.2 164.4,398.5 109.2,456.3 193.3,370.7 163.2,365.2 155.3,394.2 189.5,376.4 195.1,308.5 174.2,363.0 164.4,313.1 160.2,337.5 239.3,336.8 187.6,352.3 138.3,383.4 187.0,353.9 110.8,444.1 237.0,354.6 168.0,361.3 155.9,330.1 147.8,387.9 118.5,416.3 135.1,389.8 159.5,373.4 189.0,365.5 127.7,378.1 140.4,392.7 248.9,340.0 181.4,346.3 137.1,378.7 149.7,412.1 209.1,331.1 112.5,451.9 127.6,389.6 168.0,325.7 153.1,328.5 156.2,364.1 143.4,334.3 147.0,413.8 185.1,378.9 174.3,318.2 145.6,353.8 162.7,348.0 172.5,311.9 139.2,368.7 137.1,364.5 147.1,325.7 173.1,398.6 153.7,387.9 131.9,365.5 148.9,323.8 167.7,335.6 158.0,355.5 173.1,394.6 186.6,350.9 142.0,354.4 279.3,362.4 124.9,434.1 122.8,428.1 153.6,354.0 147.4,406.3 182.4,384.6 193.5,323.7 145.3,363.0 137.2,422.4 152.1,315.4 128.7,404.0 128.2,389.8 118.5,434.9 170.9,292.8 185.2,379.0 139.8,423.1 171.1,307.4 168.3,346.3 140.0,389.8 162.8,344.1 168.1,308.0 259.6,358.9 194.9,332.5 165.1,342.4 187.6,317.3 125.5,429.6 149.2,402.1 180.3,288.3 197.9,318.4 120.1,428.1 127.8,381.4 160.7,312.5 156.4,326.6 136.7,378.2 128.7,426.0 177.8,358.9 125.4,391.5 157.6,326.2 187.3,314.4 153.7,307.7 162.4,315.2 146.1,383.9 179.2,336.5 128.4,411.6 113.5,433.6 129.9,416.0 193.2,312.9 122.1,407.5 133.3,361.0 159.4,315.5 119.0,429.5 151.5,364.8 166.7,401.5 123.5,392.4 130.3,377.2 160.7,369.8 192.7,368.8 149.3,324.3 173.3,376.8 152.0,403.1 171.8,294.7 154.2,337.2 169.2,337.2 149.0,393.9 155.7,388.8 166.7,353.3 148.8,319.5 170.9,307.0 189.2,338.6 155.8,369.7 112.6,436.5 174.4,364.7 173.3,299.0 179.9,366.2 132.5,406.3 152.9,391.1 175.4,358.6 143.7,360.5 185.8,339.9 158.8,371.8 175.2,298.5 129.6,418.0 202.8,334.0 131.9,402.4 168.1,334.2 148.5,324.4 140.5,381.3 168.2,391.2 192.7,367.4 116.6,422.0 147.3,344.8 202.4,343.0 173.2,332.5 163.3,333.3 205.1,335.3 142.5,418.8 166.3,348.8 151.1,406.6 195.8,328.8 152.6,326.0 158.2,370.3 125.2,421.9 167.9,351.4 174.9,364.4 131.3,415.3 146.8,394.8 190.5,371.6 134.7,404.3 158.4,327.2 129.2,395.5 110.6,449.1 187.3,340.4 174.0,396.9 232.3,345.2 178.6,394.3 132.4,391.8 192.8,361.7 264.0,353.0 167.0,318.1 184.7,363.7 152.8,385.5 164.0,328.5 169.7,295.8 147.9,379.4 187.7,328.8 166.6,328.5 165.2,311.1 171.2,292.1 123.9,419.8 165.2,351.9 165.2,357.8 114.5,431.3 144.6,332.2 190.3,375.7 127.7,362.1 183.3,361.3 144.7,407.2 275.2,358.5 194.8,331.2 166.3,320.0 183.7,379.4 135.5,367.3 178.5,360.2 125.9,383.0 186.2,348.4 162.1,347.5 149.1,354.8 231.7,359.0 183.8,329.6 175.7,377.0 170.1,335.9 180.3,378.4 192.7,329.6 171.6,341.3 160.1,357.2 124.1,386.1 173.4,338.4 132.6,395.7 144.3,377.9 112.4,437.4 161.6,303.5 158.4,320.9 240.0,359.0 153.8,337.6 135.2,367.0 168.9,399.5 137.7,382.8 155.1,333.3 137.7,418.1 150.6,403.1 216.7,327.5 145.4,335.5 192.2,318.3 142.3,351.9 170.5,392.9 171.1,372.8 173.7,298.6 186.6,379.7 146.4,404.0 164.2,394.8 162.3,332.2 130.6,428.1 153.2,388.7 193.7,349.9 171.2,389.3 152.2,368.3 226.5,351.4 252.4,356.6 168.6,357.6 188.8,318.8 174.0,326.0 149.3,388.0 134.7,382.7 157.8,330.1 131.2,373.2 235.5,328.5 157.3,345.1 124.8,384.5 142.8,386.0 147.9,382.2 129.4,391.7 164.8,337.4 179.9,332.9 117.2,428.8 195.4,352.3 278.6,361.6 123.8,437.3 139.9,406.2 127.6,391.8 181.8,338.6 155.4,395.7 112.6,442.3 139.1,372.4 165.6,315.7 154.8,385.4 159.9,378.7 173.7,394.0 198.0,342.4 121.5,431.4 146.7,381.1 166.8,361.0 128.8,379.8 153.8,382.9 142.9,357.5 164.9,381.2 178.7,357.5 169.9,351.0 121.1,409.0 150.0,333.3 139.3,404.4 162.7,372.6 191.1,315.7 195.7,345.8 179.8,342.9 138.6,405.9 162.8,304.5 138.7,382.6 174.5,384.6 178.5,310.6 158.3,389.9 135.4,420.1 164.3,374.0 175.5,365.7 184.4,314.1 217.1,365.0 173.2,383.5 144.3,377.6 192.7,334.6 151.7,371.8 176.9,372.0 167.2,355.3 176.7,323.2 147.8,376.5 241.5,355.2 141.4,365.0 236.1,330.4 173.8,391.2 172.4,305.2 165.6,390.0 169.2,374.0 175.5,311.4 142.9,416.8 139.7,386.3 155.8,406.1 154.3,314.3 169.9,349.1 163.2,356.4 157.2,366.8 145.1,386.0 136.7,380.8 138.1,381.1 128.8,356.4 176.7,371.8 162.0,370.7 187.8,304.3 157.1,394.6 156.6,368.1 142.2,404.7 220.1,328.4 161.1,403.2 228.7,354.4 220.2,365.1 140.8,347.9 127.3,402.4 127.8,424.4 176.7,352.8 137.4,342.7 179.2,373.3 206.2,340.2 132.3,389.8 173.0,363.3 146.9,413.5 144.2,391.9 174.2,356.2 149.4,396.8 155.1,350.6 167.5,310.9 191.3,343.6 124.6,394.7 135.6,396.9 153.8,323.1 111.5,449.6 146.2,337.0 156.4,351.1 218.9,352.4 149.2,315.4 162.4,400.6 161.3,386.4 163.5,382.1 184.6,315.6 188.9,376.5 205.9,355.9 165.7,299.7 116.0,443.6 155.2,364.3 170.7,388.2 139.4,406.1 194.4,307.5 137.2,421.7 172.6,323.5 234.7,328.8 177.6,328.5 181.3,316.5 123.1,406.8 131.6,388.9 145.9,381.7 132.5,350.8 163.3,393.1 167.3,380.3 134.7,374.2 168.3,376.5 198.2,329.8 159.4,377.7 157.5,338.7 163.6,316.0 140.2,342.9 151.4,372.0 178.1,369.1 190.0,367.7 145.5,389.2 126.2,423.1 189.0,346.7 175.5,391.8 183.1,366.9 141.6,375.8 130.2,355.0 185.8,309.4 164.7,358.5 145.9,394.3 153.4,379.6 149.4,392.1 182.1,353.7 162.6,327.5 143.8,416.6 149.8,396.0 157.3,304.1 145.0,409.9 162.1,391.8 126.1,429.8 175.0,347.0 257.7,340.8 121.8,422.2 180.9,323.0 242.1,338.8 196.1,319.2 171.3,306.3 146.2,348.7 162.1,365.0 240.7,321.7 177.8,387.5 170.9,339.3 151.1,357.9 154.5,348.8 163.7,316.3 155.8,330.8 186.5,338.9 170.5,354.2 163.1,359.0 165.7,398.7 168.8,342.2 138.8,402.6 126.9,397.3 138.3,349.1 249.2,345.5 160.7,357.3 178.5,396.2 158.4,377.3 146.8,344.0 148.2,400.2 191.3,309.4 204.2,316.7 186.9,313.0 187.0,382.6 143.8,363.3 154.0,359.6 178.6,395.3 145.6,323.6 145.8,349.5 174.0,308.2 159.4,398.1 131.2,391.7 163.1,331.4 146.7,385.8 151.1,341.9 180.7,348.0 182.5,336.7 165.2,341.1 149.4,339.6 203.0,344.6 121.7,421.7 142.2,414.9 116.0,436.0 130.2,403.0 164.6,358.9 182.8,362.6 181.1,365.9 124.4,419.4 133.0,371.8 166.5,382.9 179.6,358.8 219.3,347.2 148.3,352.0 152.7,388.2 203.5,337.7 149.4,415.9 132.9,397.8 168.0,323.7 131.0,391.5 179.3,392.0 137.1,388.8 124.0,391.2 167.1,333.9 125.7,407.2 185.7,312.0 157.4,389.5 157.0,328.8 164.0,384.9 214.8,322.3 142.8,407.1 173.4,396.3 181.3,383.9 158.6,342.3 161.7,371.6 175.1,348.2 124.2,433.9 146.4,318.5 164.7,319.1 179.4,380.9 245.8,340.5 133.1,419.0 183.9,339.4 140.9,334.4 176.1,340.0 154.7,377.2 175.4,364.5 165.1,347.1 148.1,315.9 108.8,452.3 145.1,392.5 160.6,405.2 188.2,309.1 165.6,367.2 190.4,330.5 167.8,325.8 216.1,358.4 240.6,349.8 129.1,385.4 144.3,332.9 132.1,418.5 186.4,330.0 147.6,369.3 260.1,339.1 148.9,316.6 112.6,436.2 164.8,338.6 161.0,339.9 171.7,400.4 133.6,421.0 130.0,394.1 140.1,382.1 119.1,423.5 167.2,379.2 158.8,335.5 182.6,326.9 133.3,366.9 172.4,331.8 120.3,410.7 146.3,364.0 134.1,376.3 178.0,300.1 189.1,350.8 180.6,289.8 145.2,363.4 121.6,407.4 267.0,354.7 132.4,345.0 155.7,356.1 146.0,335.0 155.0,364.5 117.6,427.6 166.2,358.6 139.1,391.9 154.2,334.7 188.6,310.8 111.2,446.7 152.7,329.0 148.7,323.1 175.2,334.2 157.9,357.1 167.6,380.4 187.5,373.2 112.4,451.2 188.1,363.8 153.9,365.8 166.2,396.2 269.0,355.5 138.7,411.0 128.0,411.4 189.6,328.9 156.7,315.4 153.8,320.9 165.4,404.3 156.0,326.7 123.5,406.3 128.6,431.6 122.5,415.9 151.5,393.0 187.5,327.3 162.9,383.9 148.3,330.1 188.0,353.9 188.2,304.7 133.5,365.0 177.8,395.7 195.7,340.6 158.3,323.1 135.9,337.8 188.1,310.9 146.7,344.4 171.9,390.1 131.9,424.4 184.3,310.6 142.0,392.9 155.6,312.2 137.1,400.1 167.4,329.4 159.7,350.5 146.4,391.5 184.3,316.6 172.5,373.8 145.8,382.1 151.7,349.0 194.0,309.9 168.0,318.0 195.1,315.6 278.2,359.7 188.0,305.0 239.1,323.5 156.2,387.6 144.6,419.5 175.6,328.3 162.2,383.4 130.4,377.1 159.6,375.7 137.6,405.5 159.8,391.1 161.5,383.4 134.5,349.8 147.7,415.2 186.4,319.1 180.0,336.3 168.3,303.8 142.2,338.4 122.5,410.6 155.0,327.8 132.2,406.8 174.0,367.8 138.8,378.5 162.6,364.2 172.1,354.7 146.0,339.4 155.3,388.4 161.4,327.8 119.3,429.2 152.5,377.2 215.4,351.6 153.2,386.1 141.9,369.8 136.0,348.8 174.3,350.1 165.3,350.6 162.3,297.5 157.4,337.6 175.5,346.9 160.2,355.0 155.6,360.1 129.6,392.5 176.5,352.7 163.5,402.3 158.7,340.3 173.9,400.5 177.1,396.3 129.5,375.9 152.8,398.3 168.5,400.8 153.0,403.4 131.0,358.2 161.2,335.0 124.3,402.7 173.8,337.4 145.8,364.5 159.8,312.2 178.8,300.5 150.8,362.7 141.4,339.8 179.9,309.5 175.8,360.7 178.6,352.2 167.8,302.9 129.9,394.4 195.4,326.0 171.9,370.5 186.0,351.0 189.0,361.4 176.3,350.8 135.0,422.4 170.9,377.0 218.9,340.1 162.9,329.8 135.3,385.8 152.4,400.7 163.1,324.3 146.7,335.2 159.3,356.8 151.5,342.6 161.7,302.4 183.4,357.1 252.6,334.7 161.4,350.2 138.6,349.5 166.7,334.4 126.9,369.7 194.1,367.8 177.3,289.3 145.9,358.2 134.3,380.4 129.7,361.9 179.3,293.2 192.3,369.3 129.8,419.6 170.0,304.2 199.4,318.6 145.1,410.7 193.2,317.4 117.5,440.9 166.2,372.0 151.9,349.2 139.8,350.4 137.3,360.2 178.2,286.7 152.5,386.0 175.0,367.9 181.1,327.6 154.8,341.8 156.2,364.6 188.1,326.9 207.2,351.6 158.5,337.2 163.0,339.7 177.8,313.6 158.9,338.1 165.5,356.1 187.8,354.2 179.8,399.6 157.6,381.5 147.0,334.9 153.1,364.3 156.6,364.0 195.4,340.8 158.3,325.6 129.3,416.1 162.9,401.8 146.4,417.7 167.9,385.7 167.0,347.8 183.2,387.0 134.7,355.9 164.6,305.3 172.3,293.4 147.0,385.7 172.2,315.5 174.6,315.7 157.8,303.8 122.8,398.7 151.8,411.7 143.9,399.3 164.9,391.5 152.1,351.8 240.1,350.2 166.7,311.8 179.5,289.0 169.3,364.2 181.0,366.4 148.1,378.2 169.4,379.4 191.3,349.9 169.6,345.3 136.2,414.4 165.5,317.6 163.1,300.7 160.0,366.3 178.3,306.5 109.0,458.8 189.0,344.6 165.8,363.4 135.8,392.5 150.2,384.6 163.6,365.1 159.9,348.6 118.4,425.5 150.4,313.8 122.1,424.0 112.5,437.3 174.7,332.9 187.4,362.6 143.9,338.2 159.2,340.4 167.0,383.0 167.6,394.4 211.8,337.0 173.9,380.3 192.7,336.1 174.9,364.2 142.5,370.3 190.6,329.9 180.4,360.9 150.2,397.9 141.7,406.7 146.4,403.9 188.5,369.2 166.3,388.3 172.9,318.2 136.4,407.8 173.7,302.7 189.8,319.2 188.1,334.0 209.8,333.4 131.9,395.5 145.5,406.5 147.5,411.9 178.3,346.8 193.1,347.9 174.0,354.0 180.2,332.8 181.0,342.1 194.3,330.7 121.7,436.6 140.8,379.4 171.8,366.6 189.1,338.7 136.1,337.2 193.1,370.7 142.8,420.0 222.0,361.6 141.8,357.3 147.2,413.8 140.5,343.2 150.8,391.3 189.5,332.6 156.2,313.1 169.2,328.8 164.2,325.5 163.1,331.6 181.9,311.2 194.0,337.7 109.7,457.4 158.0,302.6 185.0,337.2 164.1,350.3 158.7,372.3 149.6,388.0 139.5,393.3 184.5,357.2 135.3,346.5 188.9,322.0 167.6,312.9 169.8,400.8 134.7,355.1 114.3,435.1 146.9,401.9 189.4,364.2 146.7,344.0 153.4,334.8 134.8,339.3 232.9,345.8 177.7,314.8 155.5,361.6 261.6,355.7 134.6,410.7 171.4,399.0 166.5,308.8 176.1,357.6 170.0,330.5 153.6,332.2 142.8,347.3 179.4,322.7 140.3,339.9 117.2,424.3 176.1,294.9 165.2,367.9 151.9,405.6 174.4,353.3 135.0,345.8 141.4,350.1 187.4,327.7 139.0,358.0 132.0,375.7 118.9,443.0 126.9,384.0 169.3,331.8 171.4,386.7 152.7,321.8 118.5,428.1 143.0,363.9 173.1,374.1 150.6,335.9 171.7,306.3 151.9,388.7 146.8,407.0 129.6,385.4 110.2,446.0 171.4,381.8 136.7,335.9 168.5,327.7 166.5,304.0 147.0,377.9 196.7,316.8 147.9,406.8 168.4,342.7 175.8,397.8 158.1,405.6 152.4,397.0 213.1,351.3 211.4,339.7 153.6,384.5 160.3,358.8 172.1,328.1 124.7,406.5 139.7,327.9 134.5,380.3 153.1,353.0 170.1,403.4 166.7,334.8 179.7,374.8 133.0,377.8 174.2,307.1 151.9,346.3 142.9,322.9 227.4,358.3 172.5,324.6 233.4,346.9 163.8,385.2 164.4,316.9 176.3,391.0 170.0,400.1 156.3,319.1 144.4,394.8 188.4,361.1 137.5,394.5 165.5,308.7 138.8,393.3 151.9,380.0 170.1,320.5 171.9,294.5 167.1,359.8 129.1,360.7 157.5,351.1 151.5,325.7 122.2,405.0 171.9,294.5 146.3,406.5 147.7,348.4 161.7,332.9 144.8,328.3 158.8,321.3 116.4,428.4 135.8,375.3 151.8,382.1 173.8,360.2 144.0,401.3 162.2,378.9 119.3,428.7 167.8,321.3 131.8,419.1 192.8,336.5 162.3,377.4 188.0,339.4 167.5,376.3 166.0,344.4 135.8,397.2 132.3,370.8 147.8,391.1 121.9,420.2 126.2,373.5 173.4,323.5 114.7,446.1 171.8,304.5 233.3,337.7 114.8,427.6 166.8,307.0 184.7,329.6 160.1,302.5 153.2,402.6 223.1,356.4 175.1,369.3 161.6,319.0 168.1,365.6 218.3,332.1 109.0,460.0 129.6,405.1 147.0,317.2 195.0,321.1 153.5,395.8 167.5,328.8 146.6,358.9 168.3,360.2 175.0,302.0 169.9,302.8 168.7,338.6 195.3,353.2 247.6,337.7 179.8,356.7 179.3,396.0 238.3,330.6 129.3,407.8 114.8,430.2 157.6,353.4 176.7,322.1 243.6,349.2 158.0,326.8 145.7,372.3 175.2,361.8 142.6,357.0 170.5,400.8 144.4,360.2 157.9,399.7 183.9,346.1 147.8,332.4 121.8,436.7 180.2,377.5 181.5,325.8 146.0,382.0 179.0,343.4 179.8,351.9 157.1,335.6 156.5,396.4 171.8,390.3 136.2,391.2 123.0,434.1 165.4,297.9 130.8,370.4 170.3,294.8 186.1,362.7 173.8,360.8 224.5,361.6 160.6,331.5 142.7,389.3 133.8,398.0 165.7,382.0 134.1,399.9 145.1,387.5 149.5,400.8 156.7,335.6 178.2,351.1 168.5,343.6 155.3,403.0 192.4,357.0 155.8,330.1 112.5,446.8 186.7,374.9 168.2,343.5 163.7,399.2 162.5,315.8 166.8,294.8 272.8,358.8 122.7,437.7 149.8,385.1 182.7,361.6 170.4,324.1 136.1,419.6 133.9,374.5 170.5,378.3 151.5,390.1 154.0,356.0 131.0,416.3 132.4,410.1 166.0,317.7 190.3,361.8 128.3,414.3 191.8,357.4 179.4,334.1 113.4,435.3 175.7,331.2 171.5,363.1 132.0,409.7 155.8,389.6 179.6,370.3 139.8,345.6 239.1,336.1 154.4,353.9 200.9,335.7 160.5,358.9 183.2,366.1 187.5,338.7 161.5,362.3 149.9,373.5 121.8,422.5 134.3,388.6 149.4,364.5 127.1,415.7 188.4,309.9 243.8,324.6 194.9,351.0 183.0,342.2 143.4,345.8 121.1,412.3 135.6,395.3 169.4,388.2 166.5,369.3 155.4,328.8 131.6,406.9 169.6,391.6 133.7,426.6 175.5,305.6 184.0,316.8 114.1,439.8 218.6,343.1 245.8,332.4 158.1,340.0 153.0,333.7 123.2,423.1 241.4,331.4 156.4,311.8 181.4,380.8 172.6,369.4 214.9,365.4 139.6,421.5 130.0,350.7 136.6,397.4 231.3,326.9 155.1,323.0 128.3,427.4 231.1,332.4 150.3,406.1 146.4,396.6 158.4,306.6 167.8,358.1 135.3,372.6 180.0,300.3 155.2,321.5 155.0,318.4 170.1,357.0 132.6,355.6 148.1,399.4 143.1,387.5 177.6,333.7 163.5,330.9 138.4,335.4 160.5,402.0 231.1,353.3 129.6,408.0 150.0,397.3 171.8,359.7 165.0,345.5 132.2,371.3 210.6,343.7 184.0,337.2 164.5,391.8 173.8,389.8 156.8,348.6 209.7,360.3 137.3,406.7 169.4,294.2 163.2,338.3 174.2,308.4 175.4,371.9 161.7,380.3 152.6,376.4 155.3,313.5 119.8,426.1 156.0,335.9 122.2,438.4 146.6,350.9 115.8,426.8 152.0,374.5 147.4,381.6 156.0,369.9 175.2,333.9 174.9,375.9 149.7,341.3 129.7,409.1 135.1,426.7 223.3,316.9 152.2,343.7 122.4,429.8 119.5,426.6 139.2,335.8 169.7,351.9 112.4,439.0 142.9,379.4 154.3,398.7 184.3,335.1 158.8,329.8 156.5,340.4 162.0,325.8 148.4,407.8 149.7,346.0 180.0,333.0 184.5,314.4 165.3,400.0 152.3,350.9 162.5,385.2 160.7,375.4 177.9,360.9 173.7,384.8 179.6,346.2 143.0,408.7 171.8,371.4 166.5,373.7 129.0,381.0 133.2,408.1 219.4,354.1 170.6,304.3 147.1,395.5 183.1,363.2 172.4,302.5 133.6,425.7 155.2,360.0 117.9,427.9 123.5,421.7 176.8,285.7 126.0,414.1 197.5,341.2 123.4,430.5 144.8,376.6 146.1,317.8 161.3,363.9 131.5,348.1 220.0,321.3 152.3,405.9 160.2,301.8 177.1,293.0 130.5,418.2 192.4,344.1 146.0,348.4 192.1,371.6 177.7,333.2 212.6,360.1 144.3,401.5 155.6,335.4 186.8,310.6 141.1,326.5 178.5,317.4 135.1,415.5 166.4,301.2 165.0,402.2 272.0,359.2 144.7,411.4 188.3,315.7 142.8,328.7 178.0,286.9 177.7,298.1 222.1,321.3 173.0,390.3 176.8,343.3 159.3,402.9 178.8,353.8 161.9,317.3 185.3,357.6 175.5,317.2 180.3,287.7 195.3,306.9 124.4,400.6 257.7,331.9 134.9,362.6 139.7,375.9 185.3,354.9 178.1,323.4 185.9,308.7 128.0,397.2 169.6,302.7 168.4,303.4 150.4,343.4 151.0,384.7 152.6,411.0 145.4,327.1 148.7,323.1 125.2,426.1 232.3,341.1 194.5,322.3 139.0,346.9 153.2,334.3 193.3,352.7 165.8,330.2 152.2,343.0 139.9,335.9 160.2,311.5 171.5,361.4 183.7,340.1 153.4,403.1 112.9,433.2 122.5,418.4 150.1,314.1 153.5,323.4 186.3,380.8 155.3,364.4 178.9,395.5 169.7,317.8 131.1,408.7 187.6,311.6 218.6,342.0 149.8,393.2 154.4,370.4 163.2,363.9 159.9,340.6 166.1,301.4 129.6,429.7 177.9,399.0 139.0,370.3 112.2,441.1 170.4,396.3 178.9,370.1 161.3,349.6 125.2,427.6 242.0,344.2 163.0,361.6 157.5,400.5 156.1,309.8 165.8,295.7 123.4,401.0 167.8,377.0 225.7,346.3 157.9,318.2 144.8,411.2 179.3,303.6 138.9,353.0 162.8,331.0 134.5,405.6 179.2,283.5 180.6,320.4 151.1,392.5 162.9,332.5 154.7,317.4 115.5,449.0 141.1,364.3 131.7,374.2 165.3,342.1 165.4,304.7 114.1,432.0 194.3,322.4 135.0,366.3 121.7,437.8 166.0,315.1 137.9,397.2 149.6,352.4 146.4,345.8 188.7,319.1 141.1,373.6 132.7,387.4 181.4,383.2 177.6,351.6 139.7,387.1 166.6,303.4 153.5,360.3 157.0,318.6 190.5,346.2 163.3,331.9 151.3,313.3 211.3,355.1 177.4,383.5 214.2,364.0 158.1,399.5 160.7,315.1 128.7,403.6 175.0,315.5 187.4,373.4 128.9,364.1 210.2,349.2 166.4,391.4 160.3,355.3 167.0,333.2 165.5,377.6 158.8,400.2 192.6,339.4 164.3,332.6 168.4,313.8 227.8,318.3 187.2,304.3 147.2,372.0 170.9,358.5 193.4,321.5 155.0,356.5 162.0,331.2 155.7,332.8 148.5,403.7 175.0,401.5 188.5,370.9 194.9,311.5 135.9,357.5 168.2,354.6 193.2,326.8 111.6,439.6 184.5,372.8 142.2,401.9 198.0,316.0 130.9,425.7 253.6,337.3 187.0,352.1 145.3,355.9 128.6,417.6 159.6,375.9 175.6,392.0 174.2,316.0 144.8,418.6 195.5,345.4 162.7,402.5 167.6,311.9 234.1,322.6 158.5,303.1 148.9,415.7 133.0,386.7 150.5,340.8 177.5,349.9 152.4,377.3 143.9,400.0 187.8,337.0 166.7,374.2 144.1,332.0 195.0,358.7 161.5,340.5 187.6,373.2 131.6,372.1 132.6,407.7 136.2,336.9 142.8,405.6 174.9,374.5 165.2,361.1 158.2,335.5 154.5,338.0 147.5,335.7 137.5,415.3 127.8,385.9 178.2,296.9 124.4,394.0 127.9,374.8 126.5,367.8 140.9,327.6 113.0,438.9 142.8,392.6 184.2,307.6 195.5,329.8 121.1,411.0 141.2,338.3 237.1,336.2 148.4,337.0 138.8,376.3 167.5,341.7 124.3,393.5 147.9,365.1 134.5,352.2 177.1,389.7 142.8,382.1 128.0,420.6 138.7,377.3 185.7,363.5 107.4,458.7 170.1,346.6 186.2,348.5 163.6,388.4 169.8,368.2 138.0,374.3 158.8,336.5 146.9,319.3 131.4,389.0 176.3,326.5 149.3,378.3 130.7,362.8 181.8,351.1 147.1,397.8 176.2,357.8 195.1,317.3 163.6,360.0 136.9,394.9 176.8,304.3 169.3,394.2 157.4,336.0 142.9,358.3 239.9,329.5 127.7,395.4 188.4,339.3 127.8,391.4 172.3,320.7 148.6,380.5 142.9,330.8 138.8,402.6 136.9,354.0 216.8,364.1 179.6,354.8 167.2,321.9 175.4,322.8 142.7,350.1 189.4,347.8 145.8,370.2 139.5,376.8 171.2,374.5 150.7,326.7 149.6,330.7 144.6,356.8 109.6,452.8 176.3,355.0 136.3,364.9 144.4,362.5 162.4,312.5 173.6,344.1 140.2,392.6 178.7,295.3 241.9,354.7 191.5,326.0 116.7,438.5 221.3,324.6 182.1,358.6 165.0,352.6 138.8,417.3 155.5,393.5 165.9,403.2 188.9,334.8 259.1,330.2 148.7,380.8 149.5,363.4 186.1,311.1 161.7,302.7 177.3,344.3 195.7,338.2 134.4,421.9 162.5,396.2 141.1,421.7 189.5,311.2 136.3,376.7 171.0,297.8 149.0,366.5 176.1,398.2 223.8,359.8 278.4,358.7 176.1,286.4 149.9,351.3 187.1,317.5 129.3,420.6 136.1,415.0 175.8,326.5 178.2,346.6 152.9,405.0 144.1,340.3 180.3,364.0 133.8,398.1 115.1,447.8 166.9,374.8 136.5,339.2 122.8,429.1 137.1,360.9 184.1,347.3 195.8,337.2 132.2,372.0 152.3,352.1 188.3,327.8 158.1,358.1 159.2,333.0 127.2,416.9 160.0,390.0 140.3,365.0 175.9,301.5 186.7,321.9 178.5,300.8 168.6,353.6 124.6,406.2 129.1,421.4 283.7,363.7 282.4,361.4 283.0,359.8 270.3,364.8 270.3,364.5 266.9,352.7 268.7,353.9 266.9,355.7 261.2,352.4 263.1,355.9 266.5,331.8 262.4,337.0 266.0,334.8 257.4,351.6 256.6,348.6 254.0,331.3 257.1,333.9 257.6,359.3 252.9,359.6 253.6,340.8 258.9,339.5 251.1,342.2 253.2,344.4 254.3,331.7 252.5,326.5 249.8,322.7 249.3,323.0 250.6,356.3 251.1,355.7 248.1,344.8 251.8,343.5 247.9,355.8 243.1,354.1 246.9,356.8 241.7,343.8 244.5,346.7 243.9,332.8 245.0,334.7 247.0,335.8 246.6,336.5 245.1,325.7 243.5,324.5 242.0,320.7 244.3,320.4 236.4,356.1 239.0,353.5 239.5,337.4 239.0,336.9 240.2,330.3 241.6,329.0 239.0,345.2 239.8,343.7 236.4,350.4 237.7,352.4 236.0,365.1 229.6,360.1 228.8,363.2 243.8,332.7 240.5,331.9 238.1,328.0 234.3,329.0 238.6,318.7 237.9,320.6 230.5,319.9 230.1,320.1 227.5,353.6 228.1,353.4 226.8,337.9 229.2,341.4 228.2,346.4 224.8,324.1 224.8,323.5 224.1,318.7 220.8,319.9 218.6,359.0 216.2,358.2 215.7,352.0 215.7,351.2 211.7,325.9 215.7,329.5 211.5,362.7 209.4,361.4 211.1,352.2 210.1,357.0 213.3,340.3 213.4,337.8 216.2,331.7 216.0,335.2 206.9,325.8 207.8,321.9 205.8,343.7 202.8,342.5 201.4,335.0 198.7,337.8 205.3,311.5 206.0,312.4 201.1,313.5 201.2,311.4 194.5,321.8 197.3,325.0 192.8,367.0 195.3,351.0 195.3,356.3 198.3,347.4 198.2,347.7 194.3,339.1 191.5,341.6 191.3,328.7 195.3,327.5 190.0,376.7 190.9,377.1 185.1,366.7 187.4,361.7 183.9,347.9 185.5,352.4 187.3,334.5 187.4,333.3 190.2,317.8 185.8,317.9 190.7,305.8 192.4,305.8 197.1,308.1 195.2,360.4 196.1,359.5 185.1,327.0 183.7,324.8 182.8,309.9 186.4,312.1 191.6,268.7 190.8,270.9 191.5,269.7 183.7,281.8 191.4,287.6 187.0,290.7 187.2,294.5 182.9,295.7 185.5,294.8 184.8,300.1 196.4,312.9 199.6,311.0 289.8,362.6 284.8,357.5 269.7,355.4 269.7,336.0 254.1,361.6 256.4,341.5 194.9,263.7 183.8,267.8 178.4,283.1 141.2,449.1 143.7,446.4 106.6,465.4 177.3,377.8 246.4,358.9 199.9,314.5 242.3,333.1 223.5,325.5 211.2,340.1 263.6,333.9 131.4,350.8 293.0,366.2 164.3,392.3 138.2,411.0 163.1,370.2 172.0,361.2 135.3,337.2 177.3,286.6 184.0,311.0 207.6,323.5 189.0,317.1 133.1,344.0 194.9,368.1 241.8,333.1 242.3,317.9 192.3,338.8 265.7,365.8 210.5,355.4 199.1,313.6 167.3,375.7 187.0,364.4 255.3,333.1 107.0,458.2 119.9,413.7 219.9,369.9 129.4,430.4 204.6,345.0 221.8,317.3 183.8,274.7 180.8,399.9 154.9,311.5 144.9,420.8 244.6,323.5 179.6,290.0 188.5,293.5 118.2,447.8 180.8,280.3 209.3,364.4 135.9,426.3 260.6,326.5 127.0,422.1 123.5,436.0 238.2,338.8 177.3,398.6 201.7,338.0 126.0,380.3 286.2,365.5 188.8,317.3 186.7,302.5 118.8,417.9 150.6,410.3 114.7,432.5 240.0,320.8 252.3,340.9 123.0,402.5 141.3,329.5 158.4,300.4 171.4,369.4 190.0,374.8 192.0,377.8 123.5,402.7 146.5,443.6 192.6,286.6 242.3,345.6 143.5,320.6 186.1,375.7 186.7,362.6 251.2,323.5 183.8,312.2 179.6,385.4 191.1,308.9 190.9,290.0 116.4,423.5 194.7,353.3 211.7,312.4 149.6,418.0 240.6,320.8 185.2,334.6 262.9,353.3 137.4,344.5 239.4,327.6 155.3,404.0 211.2,370.6 156.7,303.8 280.3,360.3 236.4,354.0 255.3,358.9 225.8,352.6 224.1,338.8 118.8,430.4 164.3,361.2 193.5,329.8 139.4,399.9 142.0,386.1 135.3,330.2 143.7,321.9 184.3,296.2 150.8,410.3 170.2,402.1 124.9,389.2 204.6,309.6 214.1,327.0 195.9,367.1 186.4,326.3 236.4,366.5 247.6,339.4 167.8,318.5 268.8,332.5 117.6,443.6 171.4,292.1 176.1,393.1 242.0,345.6 230.0,314.5 142.4,417.9 252.9,329.0 186.4,349.1 232.4,320.8 161.4,312.8 111.7,454.7 148.8,313.4 153.2,395.1 197.0,345.6 237.6,354.0 272.4,365.1 131.2,403.4 173.7,299.1 214.1,333.1 180.3,365.3 167.8,383.3 130.5,358.3 278.0,355.1 155.5,403.4 245.8,354.6 146.5,413.8 250.0,346.4 250.5,353.3 197.0,322.1 189.0,272.0 235.2,367.1 172.0,306.7 162.6,297.0 218.2,350.5 122.9,410.3 236.4,329.8 217.0,360.9 135.9,337.5 167.3,292.8 121.1,440.1 132.1,365.1 255.3,349.9 198.2,306.9 193.2,268.5 132.3,426.9 153.7,375.7 128.2,431.8 191.4,265.7 269.1,351.3 230.5,362.3 150.8,300.4 126.9,373.1 230.0,343.6 193.5,358.1" fill="none" stroke="none" marker-start="url(#m)" marker-mid="url(#m)" marker-end="url(#m)"/>
<path d="M96.78 18.2V240.8M96.205 240.8H302.0" stroke="#000" stroke-width="1.15" fill="none"/>
<path d="M99.15 240.8v5.0M162.9 240.8v5.0M226.65 240.8v5.0M290.4 240.8v5.0M96.78 238.45h-5.0M96.78 203.89h-5.0M96.78 169.33h-5.0M96.78 134.77h-5.0M96.78 100.21h-5.0M96.78 65.65h-5.0M96.78 31.09h-5.0" stroke="#000" stroke-width="1.15" fill="none"/>
<path d="M324.74 18.2V240.9M324.165 240.9H529.7" stroke="#000" stroke-width="1.15" fill="none"/>
<path d="M333.45 240.9v5.0M413.68 240.9v5.0M493.9 240.9v5.0M324.74 238.45h-5.0M324.74 203.89h-5.0M324.74 169.33h-5.0M324.74 134.77h-5.0M324.74 100.21h-5.0M324.74 65.65h-5.0M324.74 31.09h-5.0" stroke="#000" stroke-width="1.15" fill="none"/>
<path d="M96.78 254.35V476.35M96.205 476.35H302.0" stroke="#000" stroke-width="1.15" fill="none"/>
<path d="M99.15 476.35v5.0M162.9 476.35v5.0M226.65 476.35v5.0M290.4 476.35v5.0M96.78 467.50h-5.0M96.78 423.95h-5.0M96.78 380.40h-5.0M96.78 336.85h-5.0M96.78 293.30h-5.0" stroke="#000" stroke-width="1.15" fill="none"/>
<path d="M324.74 254.35V476.35M324.165 476.35H529.7" stroke="#000" stroke-width="1.15" fill="none"/>
<path d="M333.45 476.35v5.0M413.68 476.35v5.0M493.9 476.35v5.0M324.74 467.50h-5.0M324.74 423.95h-5.0M324.74 380.40h-5.0M324.74 336.85h-5.0M324.74 293.30h-5.0" stroke="#000" stroke-width="1.15" fill="none"/>
<text transform="translate(85.80,244.45) scale(1.0,1)" text-anchor="end">0.000</text>
<text transform="translate(85.80,209.89) scale(1.0,1)" text-anchor="end">0.001</text>
<text transform="translate(85.80,175.33) scale(1.0,1)" text-anchor="end">0.002</text>
<text transform="translate(85.80,140.77) scale(1.0,1)" text-anchor="end">0.003</text>
<text transform="translate(85.80,106.21) scale(1.0,1)" text-anchor="end">0.004</text>
<text transform="translate(85.80,71.65) scale(1.0,1)" text-anchor="end">0.005</text>
<text transform="translate(85.80,37.09) scale(1.0,1)" text-anchor="end">0.006</text>
<text transform="translate(85.80,473.50) scale(1.0,1)" text-anchor="end">0.10</text>
<text transform="translate(85.80,429.95) scale(1.0,1)" text-anchor="end">0.15</text>
<text transform="translate(85.80,386.40) scale(1.0,1)" text-anchor="end">0.20</text>
<text transform="translate(85.80,342.85) scale(1.0,1)" text-anchor="end">0.25</text>
<text transform="translate(85.80,299.30) scale(1.0,1)" text-anchor="end">0.30</text>
<text transform="translate(99.15,498.50) scale(1.0,1)" text-anchor="middle">0.000</text>
<text transform="translate(162.90,498.50) scale(1.0,1)" text-anchor="middle">0.002</text>
<text transform="translate(226.65,498.50) scale(1.0,1)" text-anchor="middle">0.004</text>
<text transform="translate(290.40,498.50) scale(1.0,1)" text-anchor="middle">0.006</text>
<text transform="translate(333.45,498.50) scale(1.0,1)" text-anchor="middle">0.1</text>
<text transform="translate(413.68,498.50) scale(1.0,1)" text-anchor="middle">0.2</text>
<text transform="translate(493.90,498.50) scale(1.0,1)" text-anchor="middle">0.3</text>
<text transform="translate(190.80,518.50) scale(1.0,1)" text-anchor="start" class="i">c<tspan class="s" dx="-0.3" dy="2.5">T</tspan></text>
<text transform="translate(419.60,519.20) scale(1.0,1)" text-anchor="start" class="i">l<tspan class="s" dx="-0.2" dy="2.2">sr</tspan></text>
<text transform="translate(34.45,138.35) rotate(-90) scale(1,1.0)" class="i">c<tspan class="s" dx="-0.25" dy="2.65">T</tspan></text>
<text transform="translate(43.7,373.3) rotate(-90) scale(1,1.0)" class="i">l<tspan class="s" dy="2.4">sr</tspan></text>
</svg></body></html>
